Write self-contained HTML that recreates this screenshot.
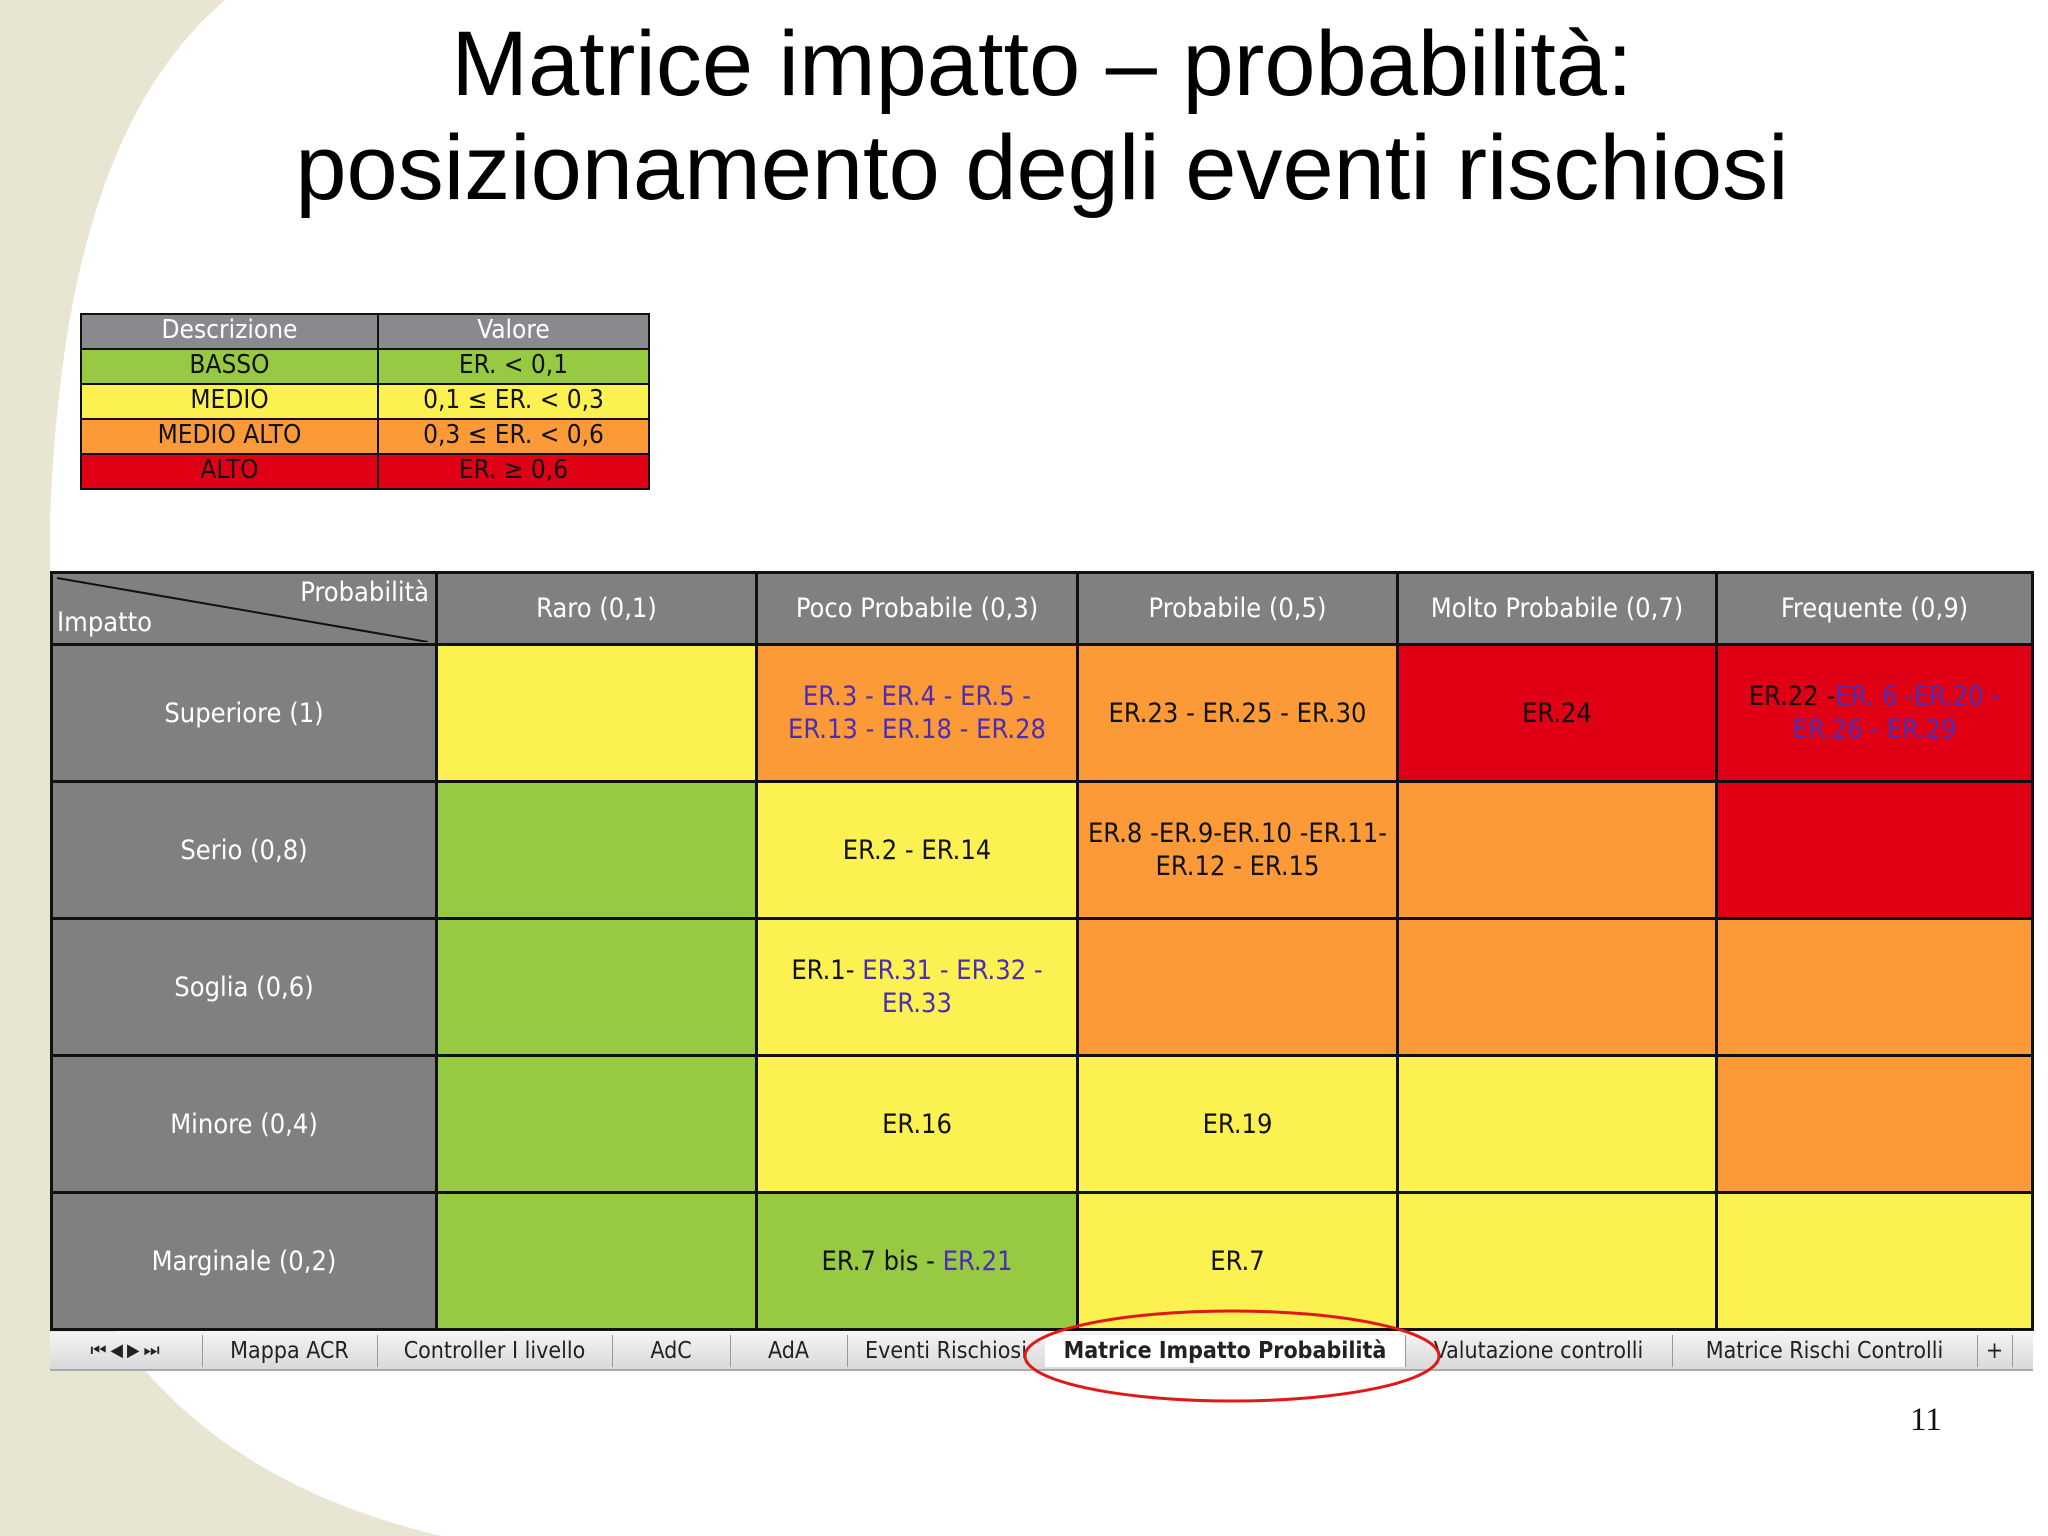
<!DOCTYPE html>
<html><head><meta charset="utf-8">
<style>
body{margin:0;width:2048px;height:1536px;position:relative;overflow:hidden;background:#fff;font-family:"DejaVu Sans Condensed","DejaVu Sans","Liberation Sans",sans-serif;}
.abs{position:absolute;}
#title{left:0;width:2084px;top:12px;text-align:center;font-family:"Liberation Sans",sans-serif;font-size:92px;line-height:104px;color:#000;}
.lg{position:absolute;box-sizing:border-box;border:2px solid #111;text-align:center;font-size:26px;line-height:31px;color:#111;}
.cell{position:absolute;box-sizing:border-box;border:3px solid #111;display:flex;align-items:center;justify-content:center;text-align:center;font-size:27px;line-height:33px;color:#111;padding:0 2px;white-space:nowrap;}
.hd{background:#808080;color:#fff;}
.b{color:#4b2cb5;}
.tab{position:absolute;top:1335px;height:32px;font-size:23px;line-height:32px;color:#222;text-align:center;border-right:1px solid #999;white-space:nowrap;}
</style></head><body>
<svg class="abs" style="left:0;top:0" width="2048" height="1536">
<rect width="2048" height="1536" fill="#fff"/>
<path d="M0 0 L225 0 C120 90 60 250 50 520 L50 1150 C70 1330 200 1480 442 1536 L0 1536 Z" fill="#e8e5d3"/>
</svg>
<div id="title" class="abs">Matrice impatto – probabilità:<br>posizionamento degli eventi rischiosi</div>
<div id="legend"></div>
<div id="matrix"></div>
<div class="abs" style="left:50px;top:1332px;width:1983px;height:37px;background:linear-gradient(#f4f4f4,#d9d9d9);border-bottom:2px solid #aaa;"></div>
<div id="tabs"></div>
<svg class="abs" style="left:0;top:0;pointer-events:none" width="2048" height="1536">
<ellipse cx="1232" cy="1356" rx="207" ry="45" fill="none" stroke="#e01818" stroke-width="3"/>
</svg>
<div class="abs" style="left:1910px;top:1402px;font-family:'Liberation Serif',serif;font-size:33px;color:#111;">11</div>
<script>
const legendDesc=["BASSO","MEDIO","MEDIO ALTO","ALTO"];
const legendVal=["ER. &lt; 0,1","0,1 ≤ ER. &lt; 0,3","0,3 ≤ ER. &lt; 0,6","ER. ≥ 0,6"];
const levelColors=["#97c942","#fbf151","#fd9a38","#e00016"];
const probLabels=["Raro (0,1)","Poco Probabile (0,3)","Probabile (0,5)","Molto Probabile (0,7)","Frequente (0,9)"];
const impactLabels=["Superiore (1)","Serio (0,8)","Soglia (0,6)","Minore (0,4)","Marginale (0,2)"];
const levels=[[1,2,2,3,3],[0,1,2,2,3],[0,1,2,2,2],[0,1,1,1,2],[0,0,1,1,1]];
const contents=[
["",'<span class="b">ER.3 - ER.4 - ER.5 -<br>ER.13 - ER.18 - ER.28</span>',"ER.23 - ER.25 - ER.30","ER.24",'ER.22 -<span class="b">ER. 6 -ER.20 -<br>ER.26 - ER.29</span>'],
["","ER.2 - ER.14","ER.8 -ER.9-ER.10 -ER.11-<br>ER.12 - ER.15","",""],
["",'ER.1- <span class="b">ER.31 - ER.32 -<br>ER.33</span>',"","",""],
["","ER.16","ER.19","",""],
["",'ER.7 bis - <span class="b">ER.21</span>',"ER.7","",""]];
const tabNames=["Mappa ACR","Controller I livello","AdC","AdA","Eventi Rischiosi","Matrice Impatto Probabilità","Valutazione controlli","Matrice Rischi Controlli","+"];

const lg=document.getElementById('legend');
const lx=[80,377,650], ly0=313, lh=35;
function lcell(x,y,w,h,html,bg,fg,name){const d=document.createElement('div');d.className='lg';


d.style.cssText=`left:${x}px;top:${y}px;width:${w}px;height:${h}px;background:${bg};color:${fg}`;d.innerHTML=html;lg.appendChild(d);}
lcell(lx[0],ly0,lx[1]-lx[0]+2,lh+2,"Descrizione","#8a8a8e","#fff","legend-header-descrizione");
lcell(lx[1],ly0,lx[2]-lx[1],lh+2,"Valore","#8a8a8e","#fff","legend-header-valore");
legendDesc.forEach((t,i)=>{const y=ly0+lh*(i+1);
lcell(lx[0],y,lx[1]-lx[0]+2,lh+2,t,levelColors[i],"#111","legend-desc-"+i);
lcell(lx[1],y,lx[2]-lx[1],lh+2,legendVal[i],levelColors[i],"#111","legend-value-"+i);});

const mx=document.getElementById('matrix');
const cx=[50,435,755,1076,1396,1715,2031], hy0=571, hy1=643, rh=137;
function mcell(x,y,w,h,html,cls,bg,name){const d=document.createElement('div');d.className='cell '+cls;


d.style.cssText=`left:${x}px;top:${y}px;width:${w+3}px;height:${h+3}px;`+(bg?`background:${bg}`:'');
if(html.indexOf('<svg')===0){d.innerHTML=html;}else{const inner=document.createElement('div');inner.innerHTML=html;d.appendChild(inner);}
mx.appendChild(d);}
mcell(cx[0],hy0,cx[1]-cx[0],hy1-hy0,'<svg width="380" height="68" style="position:absolute;left:0;top:0"><line x1="4" y1="4" x2="375" y2="68" stroke="#111" stroke-width="2"/></svg><span style="position:absolute;right:6px;top:2px">Probabilità</span><span style="position:absolute;left:4px;bottom:4px">Impatto</span>','hd','', 'corner-header');
probLabels.forEach((p,j)=>mcell(cx[j+1],hy0,cx[j+2]-cx[j+1],hy1-hy0,p,'hd','','prob-header-'+j));
impactLabels.forEach((im,i)=>{const y=hy1+rh*i;
mcell(cx[0],y,cx[1]-cx[0],rh,im,'hd','','impact-header-'+i);
levels[i].forEach((lv,j)=>mcell(cx[j+1],y,cx[j+2]-cx[j+1],rh,contents[i][j],'',levelColors[lv],'cell-r'+i+'-c'+j));});

const tb=document.getElementById('tabs');
const nav=document.createElement('div');nav.className='tab';


nav.style.cssText='left:52px;width:150px;font-size:18px;letter-spacing:4px;';nav.textContent='⏮◀▶⏭';tb.appendChild(nav);
const tabEdges=[202,377,612,730,847,1045,1405,1672,1977,2012];
tabNames.forEach((t,i)=>{const d=document.createElement('div');d.className='tab';


d.style.left=tabEdges[i]+'px';d.style.width=(tabEdges[i+1]-tabEdges[i])+'px';
if(i===5){d.style.background='#fff';d.style.fontWeight='bold';}
d.textContent=t;tb.appendChild(d);});
</script>
</body></html>
